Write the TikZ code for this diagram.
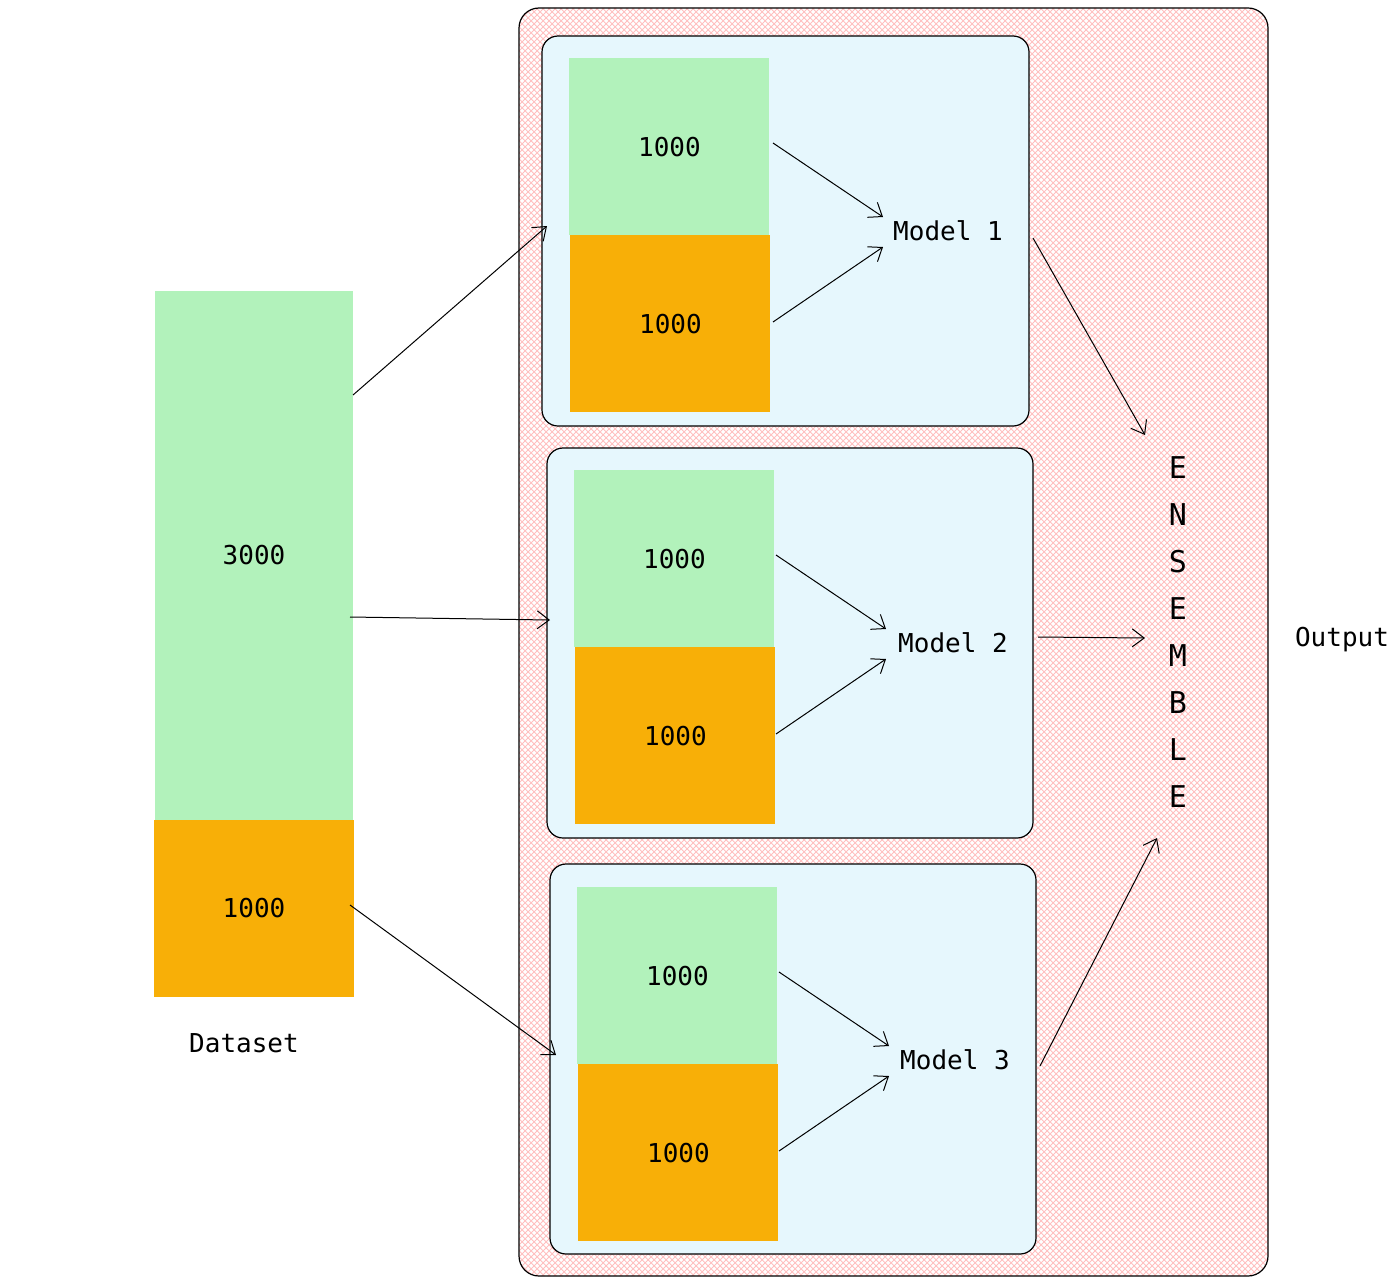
\documentclass[tikz,border=0pt]{standalone}
\usepackage{fontspec}
\setmainfont{DejaVu Sans Mono}
\usetikzlibrary{arrows.meta,patterns}
\begin{document}
\begin{tikzpicture}[x=0.5pt,y=-0.5pt,
  grn/.style={fill=green!30!white!95!black, draw=none},
  org/.style={fill=orange!70!yellow, draw=none},
  box/.style={draw=black, fill=cyan!10, rounded corners=8pt, line width=0.6pt},
  lbl/.style={font=\fontsize{13}{15}\selectfont},
  arr/.style={-{Straight Barb[length=6pt,width=9pt]}, line width=0.5pt}]
\useasboundingbox (0,0) rectangle (1400,1284);
\definecolor{g}{HTML}{B2F2BB}\definecolor{o}{HTML}{F8AF07}
\draw[rounded corners=10pt, fill=white, pattern=crosshatch, pattern color=red!25, line width=0.6pt] (519,8) rectangle (1268,1276);
\draw[box] (542,36) rectangle (1029,426);
\draw[box] (547,448) rectangle (1033,838);
\draw[box] (550,864) rectangle (1036,1254);
% dataset
\node[fill=g, minimum width=99pt, minimum height=264.5pt, inner sep=0, lbl] (dg) at (254,555.5) {3000};
\node[fill=o, minimum width=100pt, minimum height=88.5pt, inner sep=0, lbl] (do) at (254,908.5) {1000};
\node[lbl] (ds) at (244,1043) {Dataset};
% blocks
\foreach \i/\x/\y in {1/569/58, 2/574/470, 3/577/887}{
  \node[fill=g, minimum width=100pt, minimum height=88.5pt, inner sep=0, lbl, anchor=north west] (g\i) at (\x,\y) {1000};
  \node[fill=o, minimum width=100pt, minimum height=88.5pt, inner sep=0, lbl, anchor=north west] (o\i) at (\x+1,\y+177) {1000};
}
\node[lbl] (m1) at (948,231) {Model 1};
\node[lbl] (m2) at (953,643) {Model 2};
\node[lbl] (m3) at (955,1060) {Model 3};
\node[lbl, align=center, font=\fontsize{15}{23.5}\selectfont] (ens) at (1178,632) {E\\N\\S\\E\\M\\B\\L\\E};
\node[lbl] (out) at (1342,640) {Output};
% arrows
\draw[arr] (353,395) -- (547,226);
\draw[arr] (350,617) -- (550,620);
\draw[arr] (350,905) -- (556,1055);
\foreach \i/\dy in {1/0, 2/412, 3/829}{
  \draw[arr] (770+\i*3,143+\dy) -- (880+\i*3,217+\dy);
  \draw[arr] (770+\i*3,322+\dy) -- (880+\i*3,247+\dy);
}
\draw[arr] (1033,238) -- (1145,435);
\draw[arr] (1038,637) -- (1145,638);
\draw[arr] (1040,1066) -- (1157,838);
\end{tikzpicture}
\end{document}
